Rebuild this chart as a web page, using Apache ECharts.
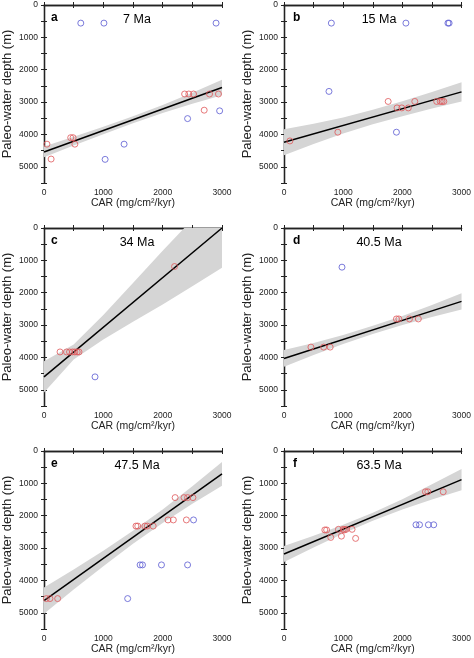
<!DOCTYPE html>
<html>
<head>
<meta charset="utf-8">
<script src="https://cdn.jsdelivr.net/npm/echarts@6/dist/echarts.min.js"></script>
<style>
html, body { margin: 0; padding: 0; background: #fff; }
#chart { width: 474px; height: 658px; }
</style>
</head>
<body>
<div id="chart"></div>
<script>
// panel labels
var panelLetters = ['a', 'b', 'c', 'd', 'e', 'f'];
var panelAges = ['7 Ma', '15 Ma', '34 Ma', '40.5 Ma', '47.5 Ma', '63.5 Ma'];

// axis tick labels
var carTicks = [0, 1000, 2000, 3000];
var depthTicks = [0, 1000, 2000, 3000, 4000, 5000];

// CAR values where the confidence band was read
var bandCar = [0, 500, 1000, 1500, 2000, 2500, 3000];

// a - 7 Ma
var redA = [[50, 4300], [120, 4760], [450, 4100], [490, 4100], [520, 4300], [2370, 2750], [2440, 2750], [2520, 2750], [2700, 3250], [2790, 2750], [2940, 2750]];
var blueA = [[620, 560], [1010, 560], [2900, 560], [1030, 4770], [1350, 4300], [2420, 3510], [2960, 3270]];
var fitA = [[0, 4540], [3000, 2551]];
var bandLoA = [4375, 4074, 3762, 3436, 3089, 2713, 2311];
var bandHiA = [4705, 4344, 3992, 3656, 3339, 3053, 2791];

// b - 15 Ma
var redB = [[100, 4200], [910, 3930], [1760, 2980], [1910, 3180], [1990, 3180], [2100, 3180], [2210, 2980], [2580, 2980], [2640, 2980], [2670, 2980], [2700, 2980]];
var blueB = [[800, 560], [2060, 560], [2770, 560], [2790, 560], [760, 2670], [1900, 3930]];
var fitB = [[0, 4242], [3000, 2684]];
var bandLoB = [3842, 3672, 3473, 3238, 2974, 2689, 2384];
var bandHiB = [4642, 4292, 3973, 3688, 3434, 3199, 2984];

// c - 34 Ma
var redC = [[270, 3830], [380, 3830], [430, 3830], [480, 3830], [520, 3830], [560, 3830], [590, 3830], [2200, 1190]];
var blueC = [[860, 4600]];
var fitC = [[0, 4600], [3000, 0]];
var bandLoC = [4120, 3603, 2687, 1700, 703, -263, -1230];
var bandHiC = [5080, 4063, 3447, 2900, 2363, 1797, 1230];

// d - 40.5 Ma
var redD = [[455, 3680], [670, 3680], [780, 3680], [1900, 2810], [1940, 2810], [2120, 2810], [2270, 2810]];
var blueD = [[980, 1210]];
var fitD = [[0, 4031], [3000, 2268]];
var bandLoD = [3771, 3552, 3303, 3024, 2716, 2377, 2018];
var bandHiD = [4291, 3922, 3583, 3274, 2996, 2747, 2518];

// e - 47.5 Ma
var redE = [[40, 4560], [100, 4560], [230, 4560], [1550, 2320], [1580, 2320], [1700, 2320], [1740, 2320], [1840, 2320], [2090, 2130], [2180, 2130], [2400, 2130], [2210, 1440], [2360, 1440], [2420, 1440], [2510, 1440]];
var blueE = [[1410, 4560], [1620, 3520], [1660, 3520], [1980, 3520], [2420, 3520], [2520, 2130]];
var fitE = [[0, 4625], [3000, 708]];
var bandLoE = [4220, 3662, 3079, 2467, 1804, 1091, 343];
var bandHiE = [5030, 4282, 3559, 2867, 2224, 1631, 1073];

// f - 63.5 Ma
var redF = [[690, 2440], [720, 2440], [790, 2670], [920, 2420], [970, 2630], [1000, 2420], [1020, 2440], [1050, 2420], [1150, 2420], [1210, 2700], [2390, 1260], [2430, 1260], [2690, 1260]];
var blueF = [[2230, 2280], [2290, 2280], [2440, 2280], [2530, 2280]];
var fitF = [[0, 3183], [3000, 883]];
var bandLoF = [2933, 2620, 2281, 1908, 1490, 1031, 553];
var bandHiF = [3433, 2980, 2551, 2158, 1810, 1501, 1213];

var reds = [redA, redB, redC, redD, redE, redF];
var blues = [blueA, blueB, blueC, blueD, blueE, blueF];
var fits = [fitA, fitB, fitC, fitD, fitE, fitF];
var bandLos = [bandLoA, bandLoB, bandLoC, bandLoD, bandLoE, bandLoF];
var bandHis = [bandHiA, bandHiB, bandHiC, bandHiD, bandHiE, bandHiF];

var font = '"Liberation Sans", Arial, sans-serif';
var ink = '#222';
var plotW = 180, plotH = 178;
var boxes = [
    {left: 42, top: 5}, {left: 284, top: 5},
    {left: 42, top: 228}, {left: 284, top: 228},
    {left: 42, top: 451}, {left: 284, top: 451}
];

function bandRender(lo, hi) {
    return function (params, api) {
        if (params.dataIndex !== 0) return null;
        var pts = [];
        for (var i = 0; i < bandCar.length; i++) pts.push(api.coord([bandCar[i], lo[i]]));
        for (var j = bandCar.length - 1; j >= 0; j--) pts.push(api.coord([bandCar[j], hi[j]]));
        return {type: 'polygon', shape: {points: pts}, style: {fill: '#d5d5d5'}};
    };
}

var tick = {show: true, inside: false, length: 3, lineStyle: {color: ink, width: 1}};
var axLine = {show: true, lineStyle: {color: ink, width: 1.3}};

var grid = [], xAxis = [], yAxis = [], series = [], title = [];

boxes.forEach(function (b, i) {
    grid.push({left: b.left, top: b.top, width: plotW, height: plotH});

    xAxis.push({
        gridIndex: i, type: 'value', position: 'bottom', min: 0, max: 3000, interval: 500,
        splitLine: {show: false}, axisLine: axLine, axisTick: tick,
        axisLabel: {
            margin: 5, fontSize: 8.5, color: ink, fontFamily: font,
            formatter: function (v) { return carTicks.indexOf(v) >= 0 ? String(v) : ''; }
        },
        name: 'CAR (mg/cm²/kyr)', nameLocation: 'middle', nameGap: 15,
        nameTextStyle: {fontSize: 10.5, color: ink, fontFamily: font}
    });
    xAxis.push({
        gridIndex: i, type: 'value', position: 'top', min: 0, max: 3000, interval: 500,
        splitLine: {show: false}, axisLine: axLine, axisTick: tick, axisLabel: {show: false}
    });
    yAxis.push({
        gridIndex: i, type: 'value', position: 'left', inverse: true, min: 0, max: 5500, interval: 500,
        splitLine: {show: false}, axisLine: axLine, axisTick: tick,
        axisLabel: {
            margin: 6, fontSize: 8.5, color: ink, fontFamily: font,
            formatter: function (v) { return depthTicks.indexOf(v) >= 0 ? String(v) : ''; }
        },
        name: 'Paleo-water depth (m)', nameLocation: 'middle', nameGap: 30,
        nameTextStyle: {fontSize: 13, color: ink, fontFamily: font}
    });
    yAxis.push({
        gridIndex: i, type: 'value', position: 'right', inverse: true, min: 0, max: 5500, interval: 500,
        splitLine: {show: false}, axisLine: axLine, axisTick: tick, axisLabel: {show: false}
    });

    var rows = bandCar.map(function (c, k) { return [c, bandLos[i][k], bandHis[i][k]]; });
    series.push({
        type: 'custom', xAxisIndex: 2 * i, yAxisIndex: 2 * i, clip: true, silent: true, z: 1,
        data: rows, encode: {x: 0, y: [1, 2]},
        renderItem: bandRender(bandLos[i], bandHis[i])
    });
    series.push({
        type: 'line', xAxisIndex: 2 * i, yAxisIndex: 2 * i, data: fits[i], clip: true,
        showSymbol: false, silent: true, z: 2, lineStyle: {color: '#000', width: 1.5}
    });
    series.push({
        type: 'scatter', xAxisIndex: 2 * i, yAxisIndex: 2 * i, data: reds[i], symbol: 'circle', symbolSize: 6,
        z: 3, itemStyle: {color: 'rgba(0,0,0,0)', borderColor: '#e0585a', borderWidth: 1}
    });
    series.push({
        type: 'scatter', xAxisIndex: 2 * i, yAxisIndex: 2 * i, data: blues[i], symbol: 'circle', symbolSize: 6,
        z: 3, itemStyle: {color: 'rgba(0,0,0,0)', borderColor: '#5a5ad2', borderWidth: 1}
    });

    title.push({
        text: panelLetters[i], left: b.left + 4, top: b.top + 2,
        textStyle: {fontSize: 12, fontWeight: 'bold', color: '#000', fontFamily: font}
    });
    title.push({
        text: panelAges[i], left: b.left + plotW / 2, top: b.top + 3, textAlign: 'center',
        textStyle: {fontSize: 12.5, fontWeight: 'normal', color: '#000', fontFamily: font}
    });
});

var myChart = echarts.init(document.getElementById('chart'));
myChart.setOption({
    backgroundColor: '#fff',
    animation: false,
    title: title,
    grid: grid,
    xAxis: xAxis,
    yAxis: yAxis,
    series: series
});
</script>
</body>
</html>
